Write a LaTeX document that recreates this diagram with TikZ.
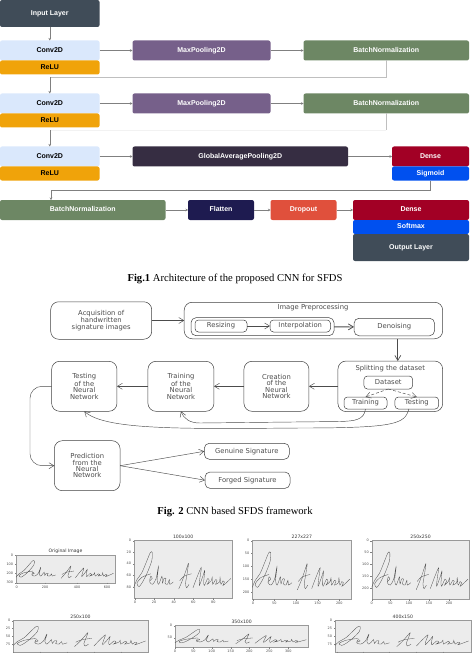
\documentclass[tikz,border=0pt]{standalone}
\usepackage{fontspec}
\setmainfont{Liberation Serif}
\newfontfamily\boxfont{Liberation Sans}
\newfontfamily\plotfont{DejaVu Sans}
\usetikzlibrary{arrows.meta, positioning, calc}
\definecolor{slate}{RGB}{64,76,88}
\definecolor{convblue}{RGB}{218,232,252}
\definecolor{relu}{RGB}{240,163,10}
\definecolor{pool}{RGB}{118,96,138}
\definecolor{norm}{RGB}{109,135,100}
\definecolor{gap}{RGB}{54,45,66}
\definecolor{dense}{RGB}{162,0,37}
\definecolor{activ}{RGB}{0,80,239}
\definecolor{flat}{RGB}{30,27,80}
\definecolor{drop}{RGB}{224,80,60}
\definecolor{sheet}{RGB}{236,236,236}

\newcommand{\signature}{
  \draw[pen] plot[smooth] coordinates {(0.0,0.80) (0.03,0.68) (0.08,0.56) (0.13,0.36) (0.165,0.22) (0.185,0.21) (0.18,0.36) (0.13,0.58) (0.08,0.74) (0.05,0.80) (0.03,0.74) (0.08,0.64) (0.17,0.58)};
  \draw[pen] plot[smooth] coordinates {(0.16,0.70) (0.185,0.66) (0.17,0.62) (0.16,0.72) (0.19,0.76) (0.225,0.66) (0.245,0.48) (0.25,0.46) (0.235,0.68) (0.25,0.76) (0.275,0.66) (0.285,0.62) (0.29,0.74) (0.305,0.66) (0.325,0.66) (0.315,0.74) (0.34,0.76) (0.36,0.68) (0.365,0.76) (0.40,0.72)};
  \draw[pen] plot[smooth] coordinates {(0.455,0.84) (0.50,0.66) (0.545,0.44) (0.555,0.40) (0.54,0.58) (0.525,0.74) (0.535,0.82) (0.56,0.76)};
  \draw[pen] plot[smooth] coordinates {(0.465,0.70) (0.51,0.62) (0.585,0.58)};
  \draw[pen] plot[smooth] coordinates {(0.60,0.82) (0.645,0.62) (0.685,0.47) (0.67,0.66) (0.665,0.78) (0.705,0.60) (0.72,0.52) (0.71,0.70) (0.715,0.78) (0.75,0.66) (0.765,0.70) (0.745,0.76) (0.785,0.70) (0.795,0.64) (0.80,0.76) (0.83,0.68) (0.845,0.70) (0.83,0.76) (0.87,0.72) (0.875,0.64) (0.885,0.76) (0.905,0.70) (0.92,0.72) (0.905,0.78) (0.935,0.74) (0.985,0.66)};
}
% name, left, top, width, height, title, x ticks, y ticks
\newcommand{\sigpanel}[8]{
  \begin{scope}[shift={(#2,#3)}]
    \fill[sheet] (0,0) rectangle (#4,#5);
    \draw[black!40, line width=0.25pt] (0,0) rectangle (#4,#5);
    \begin{scope}[xscale=#4, yscale=#5]
      \signature
    \end{scope}
    \node[plottitle] (#1title) at (#4/2,-3.5) {#6};
    \foreach \tickx/\ticklab in {#7}{
      \draw[black!50, line width=0.2pt] (\tickx,#5) -- ++(0,1.3);
      \ifx\ticklab\empty\else
        \node[ticklab] (#1x\ticklab) at (\tickx,#5+4.2) {\ticklab};
      \fi
    }
    \foreach \ticky/\ticklab in {#8}{
      \draw[black!50, line width=0.2pt] (0,\ticky) -- ++(-1.3,0);
      \node[ticklab, anchor=east] (#1y\ticklab) at (-2.8,\ticky) {\ticklab};
    }
  \end{scope}
}

\begin{document}
\begin{tikzpicture}[
    x=1pt, y=-1pt,
    layer/.style={rectangle, rounded corners=2pt, outer sep=0pt, inner sep=0pt,
                  minimum height=20pt, text=white, text height=5pt, text depth=1.5pt,
                  font=\boxfont\bfseries\fontsize{7}{8}\selectfont},
    flow/.style={-{Stealth[length=2.5pt, width=2.5pt]}, draw=black!50, line width=0.45pt},
    paleline/.style={draw=black!25, line width=0.5pt},
    sketch/.style={rectangle, rounded corners=8pt, draw=black!75, line width=0.5pt, outer sep=0pt,
                   inner sep=0pt, align=center, text=black!70,
                   font=\plotfont\fontsize{6.8}{6.4}\selectfont},
    sub/.style={sketch, rounded corners=3.5pt},
    arr/.style={-{Straight Barb[length=5pt, width=6pt]}, draw=black!70, line width=0.45pt},
    caption/.style={font=\fontsize{10.6}{12}\selectfont},
    pen/.style={black!70, line width=0.3pt},
    plottitle/.style={font=\plotfont\fontsize{4.6}{5}\selectfont, text=black!80, inner sep=0pt},
    ticklab/.style={font=\plotfont\fontsize{3.4}{4}\selectfont, text=black!70, inner sep=0pt}
  ]
  \useasboundingbox (0,0) rectangle (474,655);

  % Fig. 1
  \node[layer, fill=slate, minimum width=99.5pt, minimum height=27pt, anchor=north west] (input) at (0,0) {Input Layer};
  \node[layer, fill=convblue, text=black, minimum width=99.5pt, below=13.5pt of input] (conva) {Conv2D};
  \node[layer, fill=relu, text=black, minimum width=99.5pt, minimum height=14pt, below=0pt of conva] (relua) {ReLU};
  \node[layer, fill=pool, minimum width=138pt, right=33pt of conva] (poola) {MaxPooling2D};
  \node[layer, fill=norm, minimum width=165.5pt, right=33pt of poola] (norma) {BatchNormalization};
  \node[layer, fill=convblue, text=black, minimum width=99.5pt, below=19pt of relua] (convb) {Conv2D};
  \node[layer, fill=relu, text=black, minimum width=99.5pt, minimum height=14pt, below=0pt of convb] (relub) {ReLU};
  \node[layer, fill=pool, minimum width=138pt, right=33pt of convb] (poolb) {MaxPooling2D};
  \node[layer, fill=norm, minimum width=165.5pt, right=33pt of poolb] (normb) {BatchNormalization};
  \node[layer, fill=convblue, text=black, minimum width=99.5pt, below=19pt of relub] (convc) {Conv2D};
  \node[layer, fill=relu, text=black, minimum width=99.5pt, minimum height=14pt, below=0pt of convc] (reluc) {ReLU};
  \node[layer, fill=gap, minimum width=215.5pt, right=33pt of convc] (gapool) {GlobalAveragePooling2D};
  \node[layer, fill=dense, minimum width=77pt, right=44pt of gapool] (densea) {Dense};
  \node[layer, fill=activ, minimum width=77pt, minimum height=14pt, below=0pt of densea] (sigmoid) {Sigmoid};
  \node[layer, fill=norm, minimum width=165.5pt, below=19.5pt of reluc.south west, anchor=north west] (normc) {BatchNormalization};
  \node[layer, fill=flat, minimum width=66pt, right=22.5pt of normc] (flatten) {Flatten};
  \node[layer, fill=drop, minimum width=66pt, right=16.5pt of flatten] (dropout) {Dropout};
  \node[layer, fill=dense, minimum width=116pt, right=16.5pt of dropout] (denseb) {Dense};
  \node[layer, fill=activ, minimum width=116pt, minimum height=14pt, below=0pt of denseb] (softmax) {Softmax};
  \node[layer, fill=slate, minimum width=116pt, minimum height=27pt, below=0pt of softmax] (output) {Output Layer};
  \node[caption] (capa) at (235,279) {\textbf{Fig.1} Architecture of the proposed CNN for SFDS};
  \coordinate (turna) at (49.75,77.5);
  \coordinate (turnb) at (49.75,130.5);
  \coordinate (turnc) at (51,190);

  \draw[flow] (input) -- (conva);
  \draw[flow] (conva) -- (poola);
  \draw[flow] (poola) -- (norma);
  \draw[paleline] (norma.south) |- (turna);
  \draw[flow] (turna) -- (convb.north);
  \draw[flow] (convb) -- (poolb);
  \draw[flow] (poolb) -- (normb);
  \draw[paleline] (normb.south) -- (normb.south |- turnb);
  \draw[paleline, draw=black!5] (normb.south |- turnb) -- (turnb);
  \draw[flow] (turnb) -- (convc.north);
  \draw[flow] (convc) -- (gapool);
  \draw[flow] (gapool) -- (densea);
  \draw[flow] (sigmoid.south) |- (turnc) -- (turnc |- normc.north);
  \draw[flow] (normc) -- (flatten);
  \draw[flow] (flatten) -- (dropout);
  \draw[flow] (dropout) -- (denseb);

  % Fig. 2
  \node[sketch, minimum width=101pt, minimum height=37.5pt] (acquire) at (101.2,320.5) {Acquisition of\\handwritten\\signature images};
  \node[sketch, minimum width=258.5pt, minimum height=36.5pt, right=32.5pt of acquire] (prep) {};
  \node[sketch, draw=none, minimum height=0pt] (preptitle) at (313,308) {Image Preprocessing};
  \node[sub, rounded corners=5pt, minimum width=143pt, minimum height=18pt] (prepframe) at (262.5,326.7) {};
  \node[sub, minimum width=52pt, minimum height=12pt] (resize) at (221,326) {Resizing};
  \node[sub, minimum width=60.5pt, minimum height=12pt, right=23pt of resize] (interp) {Interpolation};
  \node[sub, rounded corners=5pt, minimum width=80.5pt, minimum height=17.5pt] (denoise) at (394.3,327) {Denoising};
  \node[sketch, minimum width=104.7pt, minimum height=50.5pt] (split) at (390.3,386.3) {};
  \node[sketch, draw=none, minimum height=0pt] (splittitle) at (390.3,369) {Splitting the dataset};
  \node[sub, minimum width=48.7pt, minimum height=13pt] (dataset) at (388.3,382.5) {Dataset};
  \node[sub, minimum width=43pt, minimum height=12pt] (trainset) at (365.5,403) {Training};
  \node[sub, minimum width=43.7pt, minimum height=12pt] (testset) at (416.8,403) {Testing};
  \node[sketch, minimum width=65pt, minimum height=50pt, left=29pt of split] (create) {Creation\\of the\\Neural\\Network};
  \node[sketch, minimum width=66pt, minimum height=50pt, left=30pt of create] (trainnet) {Training\\of the\\Neural\\Network};
  \node[sketch, minimum width=65.3pt, minimum height=50pt, left=31pt of trainnet] (testnet) {Testing\\of the\\Neural\\Network};
  \node[sketch, minimum width=65.7pt, minimum height=50pt] (predict) at (87.2,465.7) {Prediction\\from the\\Neural\\Network};
  \node[sub, rounded corners=5pt, minimum width=85pt, minimum height=16pt] (genuine) at (246.8,451.3) {Genuine Signature};
  \node[sub, rounded corners=5pt, minimum width=85pt, minimum height=16.3pt] (forged) at (247.5,480.2) {Forged Signature};
  \coordinate (bend) at (30,425);
  \node[caption] (capb) at (235,512) {\textbf{Fig. 2} CNN based SFDS framework};

  \draw[arr] (acquire) -- (prep);
  \draw[arr] (resize) -- (interp);
  \draw[arr, line width=0.8pt] (prepframe) -- (denoise);
  \draw[arr, line width=0.7pt] ([xshift=3.5pt]prep.south -| denoise.south) -- ([xshift=3.5pt]split.north -| denoise.south);
  \draw[arr] (split) -- (create);
  \draw[arr] (create) -- (trainnet);
  \draw[arr] (trainnet) -- (testnet);
  \draw[arr, densely dashed] (dataset.south) -- (trainset.north);
  \draw[arr, densely dashed] (dataset.south) -- (testset.north);
  \draw[arr, rounded corners=12pt] (testnet.west) -| (bend) |- (predict.west);
  \draw[arr] (trainset.south) .. controls (364,420) and (355,421) .. (340,421.5) -- (200,423) .. controls (190,423) and (184,419) .. (trainnet.south);
  \draw[arr] ([xshift=-8pt]testset.south) .. controls (405,424) and (395,428) .. (300,428) .. controls (180,429) and (105,430) .. (testnet.south);
  \draw[arr] (predict.east) -- (genuine.west);
  \draw[arr] (predict.east) -- (forged.west);

  % resized samples
  \sigpanel{orig}{16}{555}{99}{27.7}{Original Image}{0.7/0,29/200,61/400,91/600}{0/0,9/100,18/200,27.7/300}
  \sigpanel{hundred}{134}{540}{98.3}{58.3}{100x100}{1/0,20/20,39.7/40,59.3/60,79.3/80}{0.7/0,12/20,23.7/40,35.3/60,47/80}
  \sigpanel{twoseven}{252.3}{540}{99}{59.3}{227x227}{0.7/0,22/50,43.7/100,65.3/150,87/200}{0.7/0,13.3/50,26/100,39/150,52/200}
  \sigpanel{twofifty}{371.7}{540}{97.7}{59.3}{250x250}{0/0,18.7/50,37.3/100,57.3/150,77.3/200}{0.7/0,12/50,24/100,36/150,48/200}
  \sigpanel{wide}{13.3}{620}{134.4}{31.7}{250x100}{0/,27/,54/,81/,108/}{0.7/0,8.3/25,16.3/50,24.3/75}
  \sigpanel{wider}{175}{625}{133.3}{22.3}{350x100}{0/0,18.3/50,36.7/100,55.7/150,74.3/200,94.3/250,113.3/300}{0.7/0,12.7/50}
  \sigpanel{widest}{335}{620}{135.7}{31.7}{400x150}{1.7/,28/,54.3/,81/,107.7/}{0.7/0,8.3/25,16.3/50,24.3/75}
\end{tikzpicture}
\end{document}
